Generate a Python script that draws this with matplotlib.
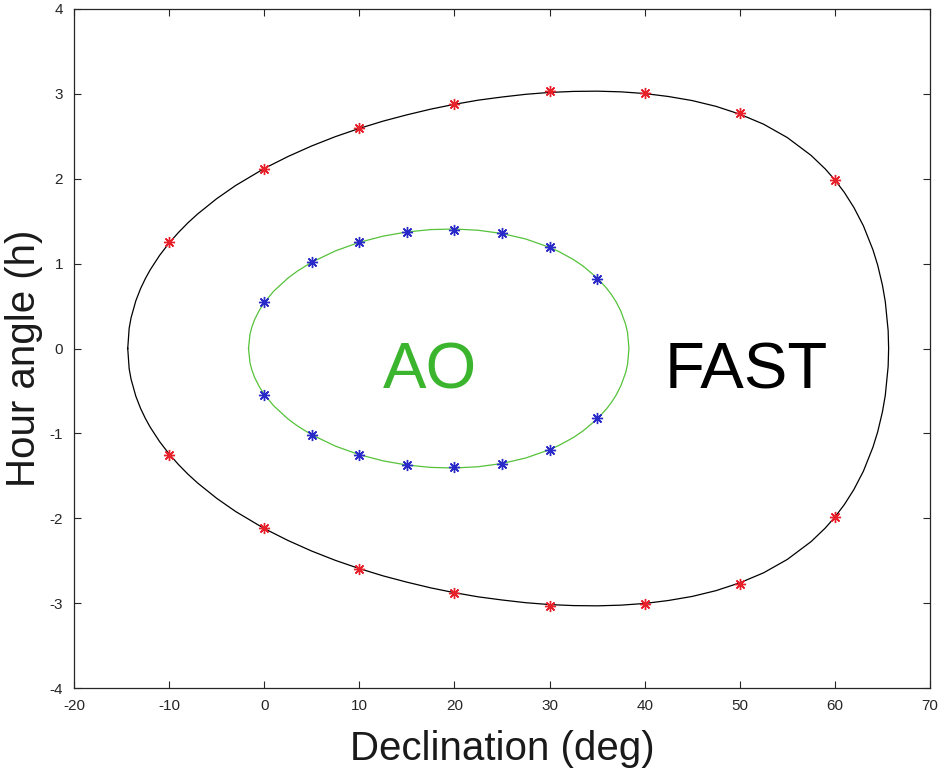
import numpy as np
import matplotlib
matplotlib.use("Agg")
import matplotlib.pyplot as plt

plt.rcParams['font.family'] = ['Liberation Sans', 'DejaVu Sans']
plt.rcParams['axes.unicode_minus'] = False

# FAST visibility boundary (upper half, declination in deg, hour angle in h)
fast_dec = [-14.35, -14.2, -14, -13.5, -13, -12.5, -12, -11, -10, -9, -8, -7,
            -5, -3, 0, 2.5, 5, 7.5, 10, 12.5, 15, 17.5, 20, 22.5, 25, 27.5,
            30, 32.5, 35, 37.5, 40, 42.5, 45, 47.5, 50, 52.5, 55, 57.5, 59,
            60, 61, 62, 63, 64, 64.5, 65, 65.3, 65.6, 65.65]
fast_ha = [0.0, 0.239, 0.362, 0.562, 0.706, 0.823, 0.925, 1.097, 1.243, 1.369,
           1.483, 1.585, 1.765, 1.921, 2.121, 2.262, 2.387, 2.497, 2.593,
           2.679, 2.753, 2.820, 2.877, 2.926, 2.963, 2.995, 3.017, 3.029,
           3.032, 3.024, 3.004, 2.969, 2.921, 2.853, 2.761, 2.643, 2.485,
           2.275, 2.114, 1.986, 1.838, 1.661, 1.445, 1.163, 0.982, 0.746,
           0.551, 0.211, 0.0]

# AO visibility boundary (upper half)
ao_dec = [-1.65, -1.5, -1.3, -1, -0.5, 0, 1, 2.5, 3.5, 5, 7.5, 10, 12.5, 15,
          17.5, 20, 22.5, 25, 27.5, 30, 31, 32.5, 33.5, 35, 36, 36.5, 37,
          37.5, 38, 38.2, 38.35]
ao_ha = [0.0, 0.167, 0.252, 0.344, 0.453, 0.540, 0.676, 0.830, 0.913, 1.017,
         1.151, 1.251, 1.324, 1.373, 1.401, 1.408, 1.393, 1.355, 1.290,
         1.192, 1.141, 1.049, 0.973, 0.832, 0.710, 0.636, 0.549, 0.439,
         0.284, 0.188, 0.0]

# sampled points
fast_pts_dec = [-10, 0, 10, 20, 30, 40, 50, 60]
fast_pts_ha = [1.25, 2.12, 2.60, 2.88, 3.03, 3.01, 2.77, 1.98]
ao_pts_dec = [0, 5, 10, 15, 20, 25, 30, 35]
ao_pts_ha = [0.55, 1.02, 1.25, 1.37, 1.40, 1.36, 1.19, 0.82]


def closed(dec, ha):
    d = np.asarray(dec, float)
    h = np.asarray(ha, float)
    return np.concatenate([d, d[::-1]]), np.concatenate([h, -h[::-1]])


fig = plt.figure(figsize=(9.42, 7.81), dpi=100)
ax = fig.add_axes([74 / 942, 1 - 688 / 781, 856 / 942, 679 / 781])

fx, fy = closed(fast_dec, fast_ha)
ax.plot(fx, fy, color='black', lw=0.9)
ax.plot(fast_pts_dec + fast_pts_dec, fast_pts_ha + [-v for v in fast_pts_ha],
        ls='none', marker=(8, 2, 0), ms=8, mew=1.0, color='#e8202a')

ax_x, ax_y = closed(ao_dec, ao_ha)
ax.plot(ax_x, ax_y, color='#55c23a', lw=0.9)
ax.plot(ao_pts_dec + ao_pts_dec, ao_pts_ha + [-v for v in ao_pts_ha],
        ls='none', marker=(8, 2, 0), ms=8, mew=1.0, color='#2a2ac8')

ax.text(17.4, -0.27, 'AO', color='#3cb52e', fontsize=47,
        ha='center', va='center')
ax.text(50.65, -0.27, 'FAST', color='black', fontsize=47,
        ha='center', va='center')

ax.set_xlim(-20, 70)
ax.set_ylim(-4, 4)
ax.set_xticks(range(-20, 71, 10))
ax.set_yticks(range(-4, 5))
ax.tick_params(direction='in', top=True, right=True, length=5, width=0.8,
               colors='#262626', labelsize=11, pad=8)
for s in ax.spines.values():
    s.set_color('#262626')
    s.set_linewidth(0.9)

ax.set_xlabel('Declination (deg)', fontsize=29, color='#1a1a1a', labelpad=12)
ax.set_ylabel('Hour angle (h)', fontsize=29, color='#1a1a1a')
ax.yaxis.set_label_coords(-0.036, 0.486)

fig.savefig('out.png', dpi=100)
